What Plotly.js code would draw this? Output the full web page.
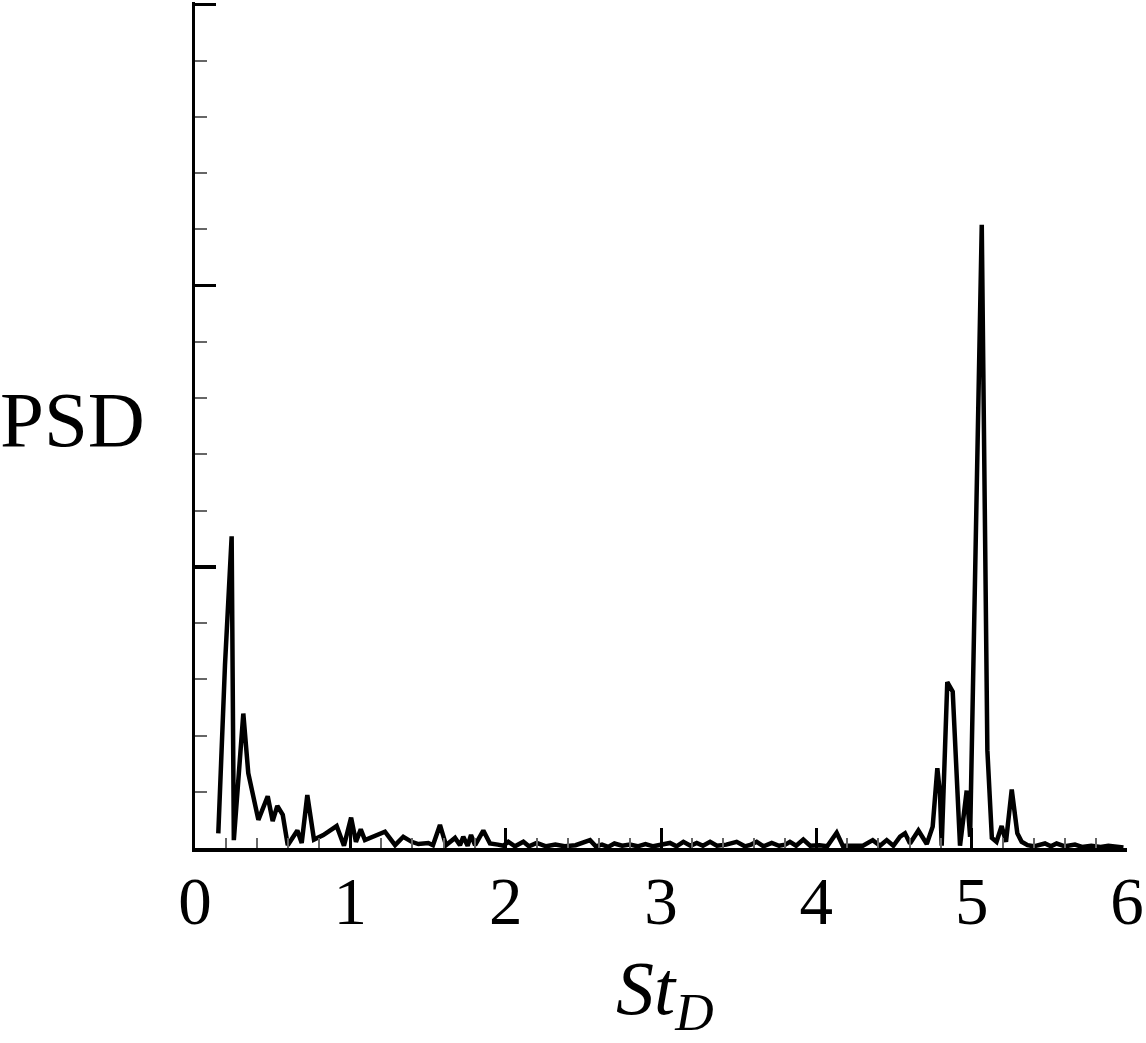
<!DOCTYPE html>
<html>
<head>
<meta charset="utf-8">
<script src="https://cdn.plot.ly/plotly-3.0.1.min.js"></script>
<style>html,body{margin:0;padding:0;background:#fff;}#chart{width:1146px;height:1043px;}</style>
</head>
<body>
<div id="chart"></div>
<script>
// Strouhal number St_D
var stD = [0.150,0.193,0.236,0.250,0.311,0.343,0.408,0.468,0.500,0.530,0.565,0.597,0.659,0.687,0.723,0.766,0.826,0.912,0.959,1.005,
1.036,1.067,1.094,1.223,1.288,1.341,1.395,1.438,1.502,1.532,1.577,1.616,1.674,1.706,1.727,1.755,1.777,1.803,1.856,1.899,
1.950,1.985,2.017,2.060,2.114,2.150,2.200,2.260,2.320,2.380,2.450,2.511,2.543,2.580,2.620,2.660,2.700,2.750,2.800,2.850,
2.900,2.950,3.000,3.058,3.100,3.144,3.190,3.230,3.270,3.316,3.360,3.420,3.487,3.540,3.580,3.616,3.660,3.713,3.760,3.800,
3.830,3.870,3.916,3.960,4.020,4.070,4.131,4.170,4.230,4.300,4.363,4.410,4.453,4.496,4.539,4.571,4.603,4.657,4.711,4.749,
4.779,4.796,4.807,4.843,4.878,4.925,4.968,4.990,5.065,5.101,5.130,5.160,5.193,5.221,5.258,5.294,5.322,5.360,5.400,5.440,
5.472,5.510,5.547,5.600,5.665,5.710,5.770,5.830,5.880,5.977];
// PSD (arbitrary units)
var psd = [0.26,3.25,5.54,0.14,2.39,1.33,0.50,0.92,0.48,0.75,0.59,0.05,0.31,0.09,0.94,0.15,0.23,0.39,0.04,0.54,
0.11,0.33,0.14,0.29,0.05,0.20,0.11,0.07,0.09,0.05,0.41,0.05,0.18,0.05,0.20,0.04,0.23,0.05,0.31,0.08,
0.06,0.04,0.11,0.03,0.11,0.03,0.09,0.03,0.06,0.03,0.05,0.11,0.14,0.03,0.06,0.02,0.08,0.04,0.06,0.03,
0.07,0.03,0.05,0.09,0.03,0.11,0.04,0.09,0.04,0.11,0.04,0.06,0.11,0.03,0.06,0.11,0.03,0.09,0.04,0.06,
0.11,0.04,0.15,0.04,0.05,0.03,0.27,0.04,0.04,0.04,0.14,0.04,0.14,0.04,0.20,0.26,0.08,0.31,0.07,0.38,
1.42,0.97,0.04,2.95,2.78,0.04,1.02,0.20,11.08,1.74,0.18,0.11,0.39,0.11,1.04,0.26,0.11,0.05,0.03,0.06,
0.08,0.03,0.08,0.03,0.06,0.02,0.04,0.02,0.04,0.01];

var xTickVals = [0,1,2,3,4,5,6];
var xTickText = ['0','1','2','3','4','5','6'];
var yTickVals = [0,5,10,15];

var serif = '"Liberation Serif", "Times New Roman", serif';

var trace = {
  x: stD, y: psd, type: 'scatter', mode: 'lines',
  line: {color: '#000', width: 4.5},
  hoverinfo: 'skip', showlegend: false, cliponaxis: false
};

var layout = {
  width: 1146, height: 1043,
  margin: {l: 195, r: 19, t: 2, b: 195, pad: 0},
  paper_bgcolor: '#fff', plot_bgcolor: '#fff',
  font: {family: serif, color: '#000'},
  xaxis: {
    range: [0, 6], tickmode: 'array', tickvals: xTickVals, ticktext: xTickText,
    ticks: 'inside', ticklen: 20, tickwidth: 3, tickcolor: '#000',
    showline: true, linewidth: 3.5, linecolor: '#000', mirror: false,
    showgrid: false, zeroline: false,
    tickfont: {family: serif, size: 67, color: '#000'},
    ticklabelstandoff: -8,
    minor: {ticks: 'inside', ticklen: 10, tickwidth: 2, tickcolor: '#666', dtick: 0.2, tick0: 0, showgrid: false}
  },
  yaxis: {
    range: [0, 15.04], tickmode: 'array', tickvals: yTickVals, showticklabels: false,
    ticks: 'inside', ticklen: 21, tickwidth: 3.5, tickcolor: '#000',
    showline: true, linewidth: 3.5, linecolor: '#000', mirror: false,
    showgrid: false, zeroline: false,
    minor: {ticks: 'inside', ticklen: 12, tickwidth: 2, tickcolor: '#666', dtick: 1, tick0: 0, showgrid: false}
  },
  annotations: [
    {text: 'PSD', xref: 'paper', yref: 'paper', x: -0.1314, y: 0.507, xanchor: 'center', yanchor: 'middle',
     showarrow: false, font: {family: serif, size: 79, color: '#000'}},
    {text: '<i>St<sub>D</sub></i>', xref: 'paper', yref: 'paper', x: 0.5043, y: -0.113, xanchor: 'center', yanchor: 'top',
     showarrow: false, font: {family: serif, size: 76, color: '#000'}}
  ]
};

Plotly.newPlot('chart', [trace], layout, {staticPlot: true, displayModeBar: false});
</script>
</body>
</html>
